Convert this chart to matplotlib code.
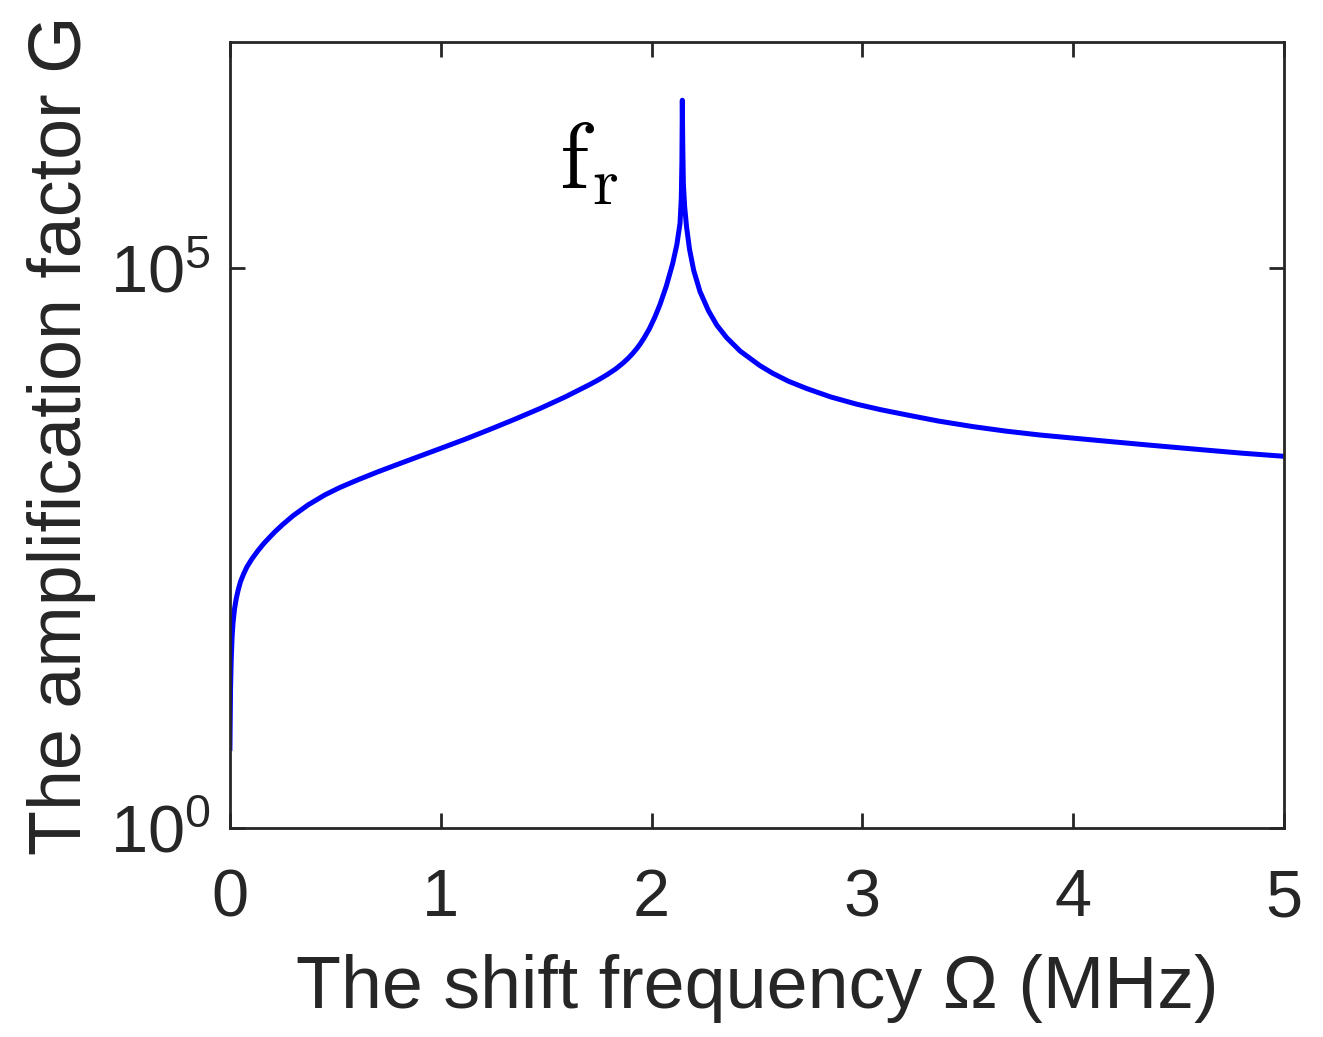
"""
Factor de amplificación G frente a la frecuencia de desplazamiento.
"""

import matplotlib
matplotlib.use("Agg")
import matplotlib.pyplot as plt
import numpy as np

# valores (x en MHz, y como log10(G))
shift_freq = [0.0, 0.001, 0.003, 0.006, 0.010, 0.015, 0.022, 0.030, 0.039,
              0.050, 0.065, 0.080, 0.103, 0.130, 0.160, 0.190, 0.213, 0.250,
              0.300, 0.370, 0.450, 0.520, 0.607, 0.700, 0.780, 0.844, 0.920,
              0.996, 1.115, 1.233, 1.350, 1.471, 1.590, 1.708, 1.750, 1.790,
              1.830, 1.866, 1.890, 1.910, 1.930, 1.945, 1.965, 1.990, 2.015,
              2.040, 2.070, 2.100, 2.120, 2.135, 2.141, 2.144, 2.146, 2.148,
              2.151, 2.157, 2.166, 2.180, 2.200, 2.230, 2.270, 2.310, 2.356,
              2.420, 2.514, 2.576, 2.650, 2.736, 2.850, 2.974, 3.090, 3.210,
              3.360, 3.525, 3.680, 3.843, 4.127, 4.360, 4.602, 4.800, 5.0]
log_gain = [0.71, 0.90, 1.25, 1.50, 1.70, 1.84, 1.96, 2.05, 2.125,
            2.20, 2.27, 2.33, 2.40, 2.47, 2.54, 2.60, 2.645, 2.71,
            2.79, 2.885, 2.975, 3.04, 3.11, 3.18, 3.237, 3.282, 3.335,
            3.388, 3.472, 3.56, 3.65, 3.747, 3.85, 3.962, 4.005, 4.05,
            4.10, 4.155, 4.197, 4.237, 4.282, 4.32, 4.378, 4.46, 4.56,
            4.675, 4.84, 5.04, 5.21, 5.40, 5.62, 5.95, 6.50, 6.10,
            5.75, 5.55, 5.37, 5.17, 4.98, 4.79, 4.62, 4.49, 4.38,
            4.26, 4.13, 4.06, 3.99, 3.925, 3.85, 3.785, 3.735, 3.69,
            3.635, 3.585, 3.545, 3.51, 3.46, 3.42, 3.38, 3.348, 3.32]
gain = 10.0 ** np.array(log_gain)

x_ticks = [0, 1, 2, 3, 4, 5]
y_ticks = [1e0, 1e5]
peak_label = r"$\mathrm{f_r}$"

plt.rcParams["font.family"] = ["Liberation Sans", "DejaVu Sans"]
plt.rcParams["mathtext.fontset"] = "custom"
plt.rcParams["mathtext.rm"] = "Liberation Sans"

axis_color = "#262626"

fig = plt.figure(figsize=(13.23, 10.37), dpi=100)
ax = fig.add_axes([0.1738, 0.2015, 0.7967, 0.758])

ax.plot(shift_freq, gain, color="#0000ff", linewidth=3.6,
        solid_joinstyle="round")
ax.set_yscale("log")
ax.set_xlim(0, 5)
ax.set_ylim(1e0, 10 ** 7.02)
ax.set_xticks(x_ticks)
ax.set_xticklabels([str(t) for t in x_ticks])
ax.set_yticks(y_ticks)
ax.set_yticklabels([r"$\mathregular{10^{0}}$", r"$\mathregular{10^{5}}$"])
ax.yaxis.set_minor_locator(matplotlib.ticker.NullLocator())

ax.tick_params(direction="in", length=11, width=2.0, colors=axis_color,
               labelsize=48, top=True, right=True)
ax.tick_params(axis="x", pad=29)
ax.tick_params(axis="y", pad=14)
for spine in ax.spines.values():
    spine.set_linewidth(2.0)
    spine.set_color(axis_color)

ax.set_xlabel("The shift frequency \u03a9 (MHz)", fontsize=53,
              color=axis_color, labelpad=17)
ax.set_ylabel("The amplification factor G", fontsize=53,
              color=axis_color, labelpad=10)

ax.text(1.70, 10 ** 5.93, peak_label, fontsize=68, ha="center", va="center",
        math_fontfamily="cm", color="black")

fig.savefig("out.png", dpi=100)
